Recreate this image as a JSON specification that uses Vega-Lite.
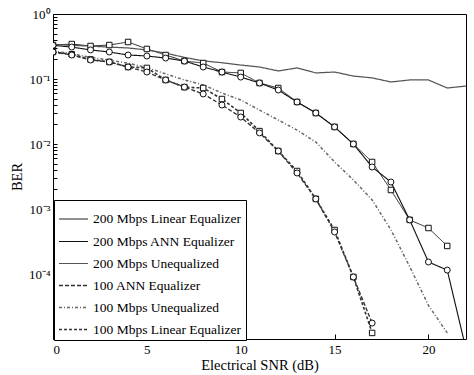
{
  "$schema": "https://vega.github.io/schema/vega-lite/v6.json",
  "width": 413,
  "height": 325,
  "autosize": {"type": "none"},
  "padding": {"left": 53, "top": 14, "right": 8, "bottom": 36},
  "background": "white",
  "config": {
    "view": {"stroke": "black", "strokeWidth": 1},
    "font": "Liberation Serif",
    "axis": {
      "grid": false,
      "domain": false,
      "tickColor": "black",
      "labelColor": "black",
      "labelFont": "Liberation Serif",
      "labelFontSize": 13,
      "titleFont": "Liberation Serif",
      "titleFontWeight": "normal",
      "titleColor": "black",
      "titleFontSize": 14.5
    }
  },
  "data": {
    "values": [
      {"series": "200 Mbps Linear Equalizer", "snr": 0, "ber": 0.333},
      {"series": "200 Mbps Linear Equalizer", "snr": 1, "ber": 0.345},
      {"series": "200 Mbps Linear Equalizer", "snr": 2, "ber": 0.322},
      {"series": "200 Mbps Linear Equalizer", "snr": 3, "ber": 0.333},
      {"series": "200 Mbps Linear Equalizer", "snr": 4, "ber": 0.371},
      {"series": "200 Mbps Linear Equalizer", "snr": 5, "ber": 0.29},
      {"series": "200 Mbps Linear Equalizer", "snr": 6, "ber": 0.234},
      {"series": "200 Mbps Linear Equalizer", "snr": 7, "ber": 0.189},
      {"series": "200 Mbps Linear Equalizer", "snr": 8, "ber": 0.176},
      {"series": "200 Mbps Linear Equalizer", "snr": 9, "ber": 0.128},
      {"series": "200 Mbps Linear Equalizer", "snr": 10, "ber": 0.124},
      {"series": "200 Mbps Linear Equalizer", "snr": 11, "ber": 0.0868},
      {"series": "200 Mbps Linear Equalizer", "snr": 12, "ber": 0.0727},
      {"series": "200 Mbps Linear Equalizer", "snr": 13, "ber": 0.0443},
      {"series": "200 Mbps Linear Equalizer", "snr": 14, "ber": 0.030},
      {"series": "200 Mbps Linear Equalizer", "snr": 15, "ber": 0.0183},
      {"series": "200 Mbps Linear Equalizer", "snr": 16, "ber": 0.010},
      {"series": "200 Mbps Linear Equalizer", "snr": 17, "ber": 0.00529},
      {"series": "200 Mbps Linear Equalizer", "snr": 18, "ber": 0.00196},
      {"series": "200 Mbps Linear Equalizer", "snr": 19, "ber": 0.00068},
      {"series": "200 Mbps Linear Equalizer", "snr": 20, "ber": 0.00051},
      {"series": "200 Mbps Linear Equalizer", "snr": 21, "ber": 0.00027},

      {"series": "200 Mbps ANN Equalizer", "snr": 0, "ber": 0.33},
      {"series": "200 Mbps ANN Equalizer", "snr": 1, "ber": 0.31},
      {"series": "200 Mbps ANN Equalizer", "snr": 2, "ber": 0.28},
      {"series": "200 Mbps ANN Equalizer", "snr": 3, "ber": 0.26},
      {"series": "200 Mbps ANN Equalizer", "snr": 4, "ber": 0.234},
      {"series": "200 Mbps ANN Equalizer", "snr": 5, "ber": 0.226},
      {"series": "200 Mbps ANN Equalizer", "snr": 6, "ber": 0.21},
      {"series": "200 Mbps ANN Equalizer", "snr": 7, "ber": 0.189},
      {"series": "200 Mbps ANN Equalizer", "snr": 8, "ber": 0.153},
      {"series": "200 Mbps ANN Equalizer", "snr": 9, "ber": 0.128},
      {"series": "200 Mbps ANN Equalizer", "snr": 10, "ber": 0.107},
      {"series": "200 Mbps ANN Equalizer", "snr": 11, "ber": 0.0868},
      {"series": "200 Mbps ANN Equalizer", "snr": 12, "ber": 0.0677},
      {"series": "200 Mbps ANN Equalizer", "snr": 13, "ber": 0.0443},
      {"series": "200 Mbps ANN Equalizer", "snr": 14, "ber": 0.030},
      {"series": "200 Mbps ANN Equalizer", "snr": 15, "ber": 0.0183},
      {"series": "200 Mbps ANN Equalizer", "snr": 16, "ber": 0.010},
      {"series": "200 Mbps ANN Equalizer", "snr": 17, "ber": 0.00443},
      {"series": "200 Mbps ANN Equalizer", "snr": 18, "ber": 0.0026},
      {"series": "200 Mbps ANN Equalizer", "snr": 19, "ber": 0.00068},
      {"series": "200 Mbps ANN Equalizer", "snr": 20, "ber": 0.000153},
      {"series": "200 Mbps ANN Equalizer", "snr": 21, "ber": 0.000115},
      {"series": "200 Mbps ANN Equalizer", "snr": 22, "ber": 0.000007},

      {"series": "200 Mbps Unequalized", "snr": 0, "ber": 0.34},
      {"series": "200 Mbps Unequalized", "snr": 1, "ber": 0.33},
      {"series": "200 Mbps Unequalized", "snr": 2, "ber": 0.32},
      {"series": "200 Mbps Unequalized", "snr": 3, "ber": 0.31},
      {"series": "200 Mbps Unequalized", "snr": 4, "ber": 0.30},
      {"series": "200 Mbps Unequalized", "snr": 5, "ber": 0.28},
      {"series": "200 Mbps Unequalized", "snr": 6, "ber": 0.25},
      {"series": "200 Mbps Unequalized", "snr": 7, "ber": 0.215},
      {"series": "200 Mbps Unequalized", "snr": 8, "ber": 0.19},
      {"series": "200 Mbps Unequalized", "snr": 9, "ber": 0.178},
      {"series": "200 Mbps Unequalized", "snr": 10, "ber": 0.164},
      {"series": "200 Mbps Unequalized", "snr": 11, "ber": 0.153},
      {"series": "200 Mbps Unequalized", "snr": 12, "ber": 0.133},
      {"series": "200 Mbps Unequalized", "snr": 13, "ber": 0.148},
      {"series": "200 Mbps Unequalized", "snr": 14, "ber": 0.124},
      {"series": "200 Mbps Unequalized", "snr": 15, "ber": 0.128},
      {"series": "200 Mbps Unequalized", "snr": 16, "ber": 0.111},
      {"series": "200 Mbps Unequalized", "snr": 17, "ber": 0.104},
      {"series": "200 Mbps Unequalized", "snr": 18, "ber": 0.09},
      {"series": "200 Mbps Unequalized", "snr": 19, "ber": 0.0966},
      {"series": "200 Mbps Unequalized", "snr": 20, "ber": 0.0966},
      {"series": "200 Mbps Unequalized", "snr": 21, "ber": 0.0727},
      {"series": "200 Mbps Unequalized", "snr": 22, "ber": 0.078},

      {"series": "100 ANN Equalizer", "snr": 0, "ber": 0.26},
      {"series": "100 ANN Equalizer", "snr": 1, "ber": 0.234},
      {"series": "100 ANN Equalizer", "snr": 2, "ber": 0.196},
      {"series": "100 ANN Equalizer", "snr": 3, "ber": 0.183},
      {"series": "100 ANN Equalizer", "snr": 4, "ber": 0.153},
      {"series": "100 ANN Equalizer", "snr": 5, "ber": 0.128},
      {"series": "100 ANN Equalizer", "snr": 6, "ber": 0.0966},
      {"series": "100 ANN Equalizer", "snr": 7, "ber": 0.075},
      {"series": "100 ANN Equalizer", "snr": 8, "ber": 0.0589},
      {"series": "100 ANN Equalizer", "snr": 9, "ber": 0.0398},
      {"series": "100 ANN Equalizer", "snr": 10, "ber": 0.026},
      {"series": "100 ANN Equalizer", "snr": 11, "ber": 0.0148},
      {"series": "100 ANN Equalizer", "snr": 12, "ber": 0.0078},
      {"series": "100 ANN Equalizer", "snr": 13, "ber": 0.00358},
      {"series": "100 ANN Equalizer", "snr": 14, "ber": 0.00143},
      {"series": "100 ANN Equalizer", "snr": 15, "ber": 0.000443},
      {"series": "100 ANN Equalizer", "snr": 16, "ber": 0.00009},
      {"series": "100 ANN Equalizer", "snr": 17, "ber": 0.0000176},

      {"series": "100 Mbps Unequalized", "snr": 0, "ber": 0.27},
      {"series": "100 Mbps Unequalized", "snr": 1, "ber": 0.245},
      {"series": "100 Mbps Unequalized", "snr": 2, "ber": 0.215},
      {"series": "100 Mbps Unequalized", "snr": 3, "ber": 0.195},
      {"series": "100 Mbps Unequalized", "snr": 4, "ber": 0.175},
      {"series": "100 Mbps Unequalized", "snr": 5, "ber": 0.15},
      {"series": "100 Mbps Unequalized", "snr": 6, "ber": 0.12},
      {"series": "100 Mbps Unequalized", "snr": 7, "ber": 0.0966},
      {"series": "100 Mbps Unequalized", "snr": 8, "ber": 0.081},
      {"series": "100 Mbps Unequalized", "snr": 9, "ber": 0.061},
      {"series": "100 Mbps Unequalized", "snr": 10, "ber": 0.0475},
      {"series": "100 Mbps Unequalized", "snr": 11, "ber": 0.0333},
      {"series": "100 Mbps Unequalized", "snr": 12, "ber": 0.0234},
      {"series": "100 Mbps Unequalized", "snr": 13, "ber": 0.0164},
      {"series": "100 Mbps Unequalized", "snr": 14, "ber": 0.0107},
      {"series": "100 Mbps Unequalized", "snr": 15, "ber": 0.0053},
      {"series": "100 Mbps Unequalized", "snr": 16, "ber": 0.0028},
      {"series": "100 Mbps Unequalized", "snr": 17, "ber": 0.00138},
      {"series": "100 Mbps Unequalized", "snr": 18, "ber": 0.00048},
      {"series": "100 Mbps Unequalized", "snr": 19, "ber": 0.00013},
      {"series": "100 Mbps Unequalized", "snr": 20, "ber": 0.000033},
      {"series": "100 Mbps Unequalized", "snr": 21, "ber": 0.0000124},

      {"series": "100 Mbps Linear Equalizer", "snr": 0, "ber": 0.26},
      {"series": "100 Mbps Linear Equalizer", "snr": 1, "ber": 0.24},
      {"series": "100 Mbps Linear Equalizer", "snr": 2, "ber": 0.2},
      {"series": "100 Mbps Linear Equalizer", "snr": 3, "ber": 0.183},
      {"series": "100 Mbps Linear Equalizer", "snr": 4, "ber": 0.153},
      {"series": "100 Mbps Linear Equalizer", "snr": 5, "ber": 0.148},
      {"series": "100 Mbps Linear Equalizer", "snr": 6, "ber": 0.0966},
      {"series": "100 Mbps Linear Equalizer", "snr": 7, "ber": 0.075},
      {"series": "100 Mbps Linear Equalizer", "snr": 8, "ber": 0.0727},
      {"series": "100 Mbps Linear Equalizer", "snr": 9, "ber": 0.0492},
      {"series": "100 Mbps Linear Equalizer", "snr": 10, "ber": 0.030},
      {"series": "100 Mbps Linear Equalizer", "snr": 11, "ber": 0.0158},
      {"series": "100 Mbps Linear Equalizer", "snr": 12, "ber": 0.0078},
      {"series": "100 Mbps Linear Equalizer", "snr": 13, "ber": 0.00384},
      {"series": "100 Mbps Linear Equalizer", "snr": 14, "ber": 0.00143},
      {"series": "100 Mbps Linear Equalizer", "snr": 15, "ber": 0.000475},
      {"series": "100 Mbps Linear Equalizer", "snr": 16, "ber": 0.00009},
      {"series": "100 Mbps Linear Equalizer", "snr": 17, "ber": 0.0000124}
    ]
  },
  "layer": [
    {
      "mark": {"type": "line", "clip": true},
      "encoding": {
        "x": {"field": "snr", "type": "quantitative",
          "scale": {"domain": [0, 22], "nice": false},
          "axis": {"orient": "bottom", "values": [0, 5, 10, 15, 20], "tickSize": -5, "labelPadding": 9, "title": "Electrical SNR (dB)", "titlePadding": 2}},
        "y": {"field": "ber", "type": "quantitative",
          "scale": {"type": "log", "domain": [0.00001, 1], "nice": false},
          "axis": {"orient": "left", "title": "BER", "titlePadding": 4, "tickSize": -4, "labelPadding": 7,
            "values": [0.00001, 0.00002, 0.00003, 0.00004, 0.00005, 0.00006, 0.00007, 0.00008, 0.00009, 0.0001, 0.0002, 0.0003, 0.0004, 0.0005, 0.0006, 0.0007, 0.0008, 0.0009, 0.001, 0.002, 0.003, 0.004, 0.005, 0.006, 0.007, 0.008, 0.009, 0.01, 0.02, 0.03, 0.04, 0.05, 0.06, 0.07, 0.08, 0.09, 0.1, 0.2, 0.3, 0.4, 0.5, 0.6, 0.7, 0.8, 0.9, 1],
            "labelExpr": "datum.value == 1 ? '10⁰' : datum.value == 0.1 ? '10⁻¹' : datum.value == 0.01 ? '10⁻²' : datum.value == 0.001 ? '10⁻³' : datum.value == 0.0001 ? '10⁻⁴' : ''"}},
        "order": {"field": "snr", "type": "quantitative"},
        "stroke": {"field": "series", "type": "nominal",
          "scale": {"domain": ["200 Mbps Linear Equalizer", "200 Mbps ANN Equalizer", "200 Mbps Unequalized", "100 ANN Equalizer", "100 Mbps Unequalized", "100 Mbps Linear Equalizer"],
            "range": ["#222222", "#111111", "#555555", "#333333", "#666666", "#333333"]}},
        "strokeDash": {"field": "series", "type": "nominal",
          "scale": {"domain": ["200 Mbps Linear Equalizer", "200 Mbps ANN Equalizer", "200 Mbps Unequalized", "100 ANN Equalizer", "100 Mbps Unequalized", "100 Mbps Linear Equalizer"],
            "range": [[1, 0], [1, 0], [1, 0], [4, 2], [3, 2, 1, 2], [3, 2]]},
          "legend": {
            "orient": "none", "legendX": 1, "legendY": 186, "title": null,
            "strokeColor": "black", "fillColor": "white", "padding": 4, "cornerRadius": 0,
            "symbolType": "stroke", "symbolSize": 841, "symbolStrokeWidth": 1,
            "rowPadding": -10, "labelFont": "Liberation Serif", "labelFontSize": 13.5, "labelColor": "black",
            "labelOffset": 4, "labelLimit": 300
          }},
        "strokeWidth": {"field": "series", "type": "nominal",
          "scale": {"domain": ["200 Mbps Linear Equalizer", "200 Mbps ANN Equalizer", "200 Mbps Unequalized", "100 ANN Equalizer", "100 Mbps Unequalized", "100 Mbps Linear Equalizer"],
            "range": [1, 1.6, 1.1, 1, 0.8, 1]}}
      }
    },
    {
      "transform": [{"filter": "indexof(datum.series, 'Linear') >= 0"}],
      "mark": {"type": "point", "shape": "square", "filled": true, "fill": "white", "stroke": "#111111", "strokeWidth": 1, "size": 30, "opacity": 1, "clip": true},
      "encoding": {
        "x": {"field": "snr", "type": "quantitative"},
        "y": {"field": "ber", "type": "quantitative"}
      }
    },
    {
      "transform": [{"filter": "indexof(datum.series, 'ANN') >= 0"}],
      "mark": {"type": "point", "shape": "circle", "filled": true, "fill": "white", "stroke": "#111111", "strokeWidth": 1, "size": 36, "opacity": 1, "clip": true},
      "encoding": {
        "x": {"field": "snr", "type": "quantitative"},
        "y": {"field": "ber", "type": "quantitative"}
      }
    }
  ]
}
